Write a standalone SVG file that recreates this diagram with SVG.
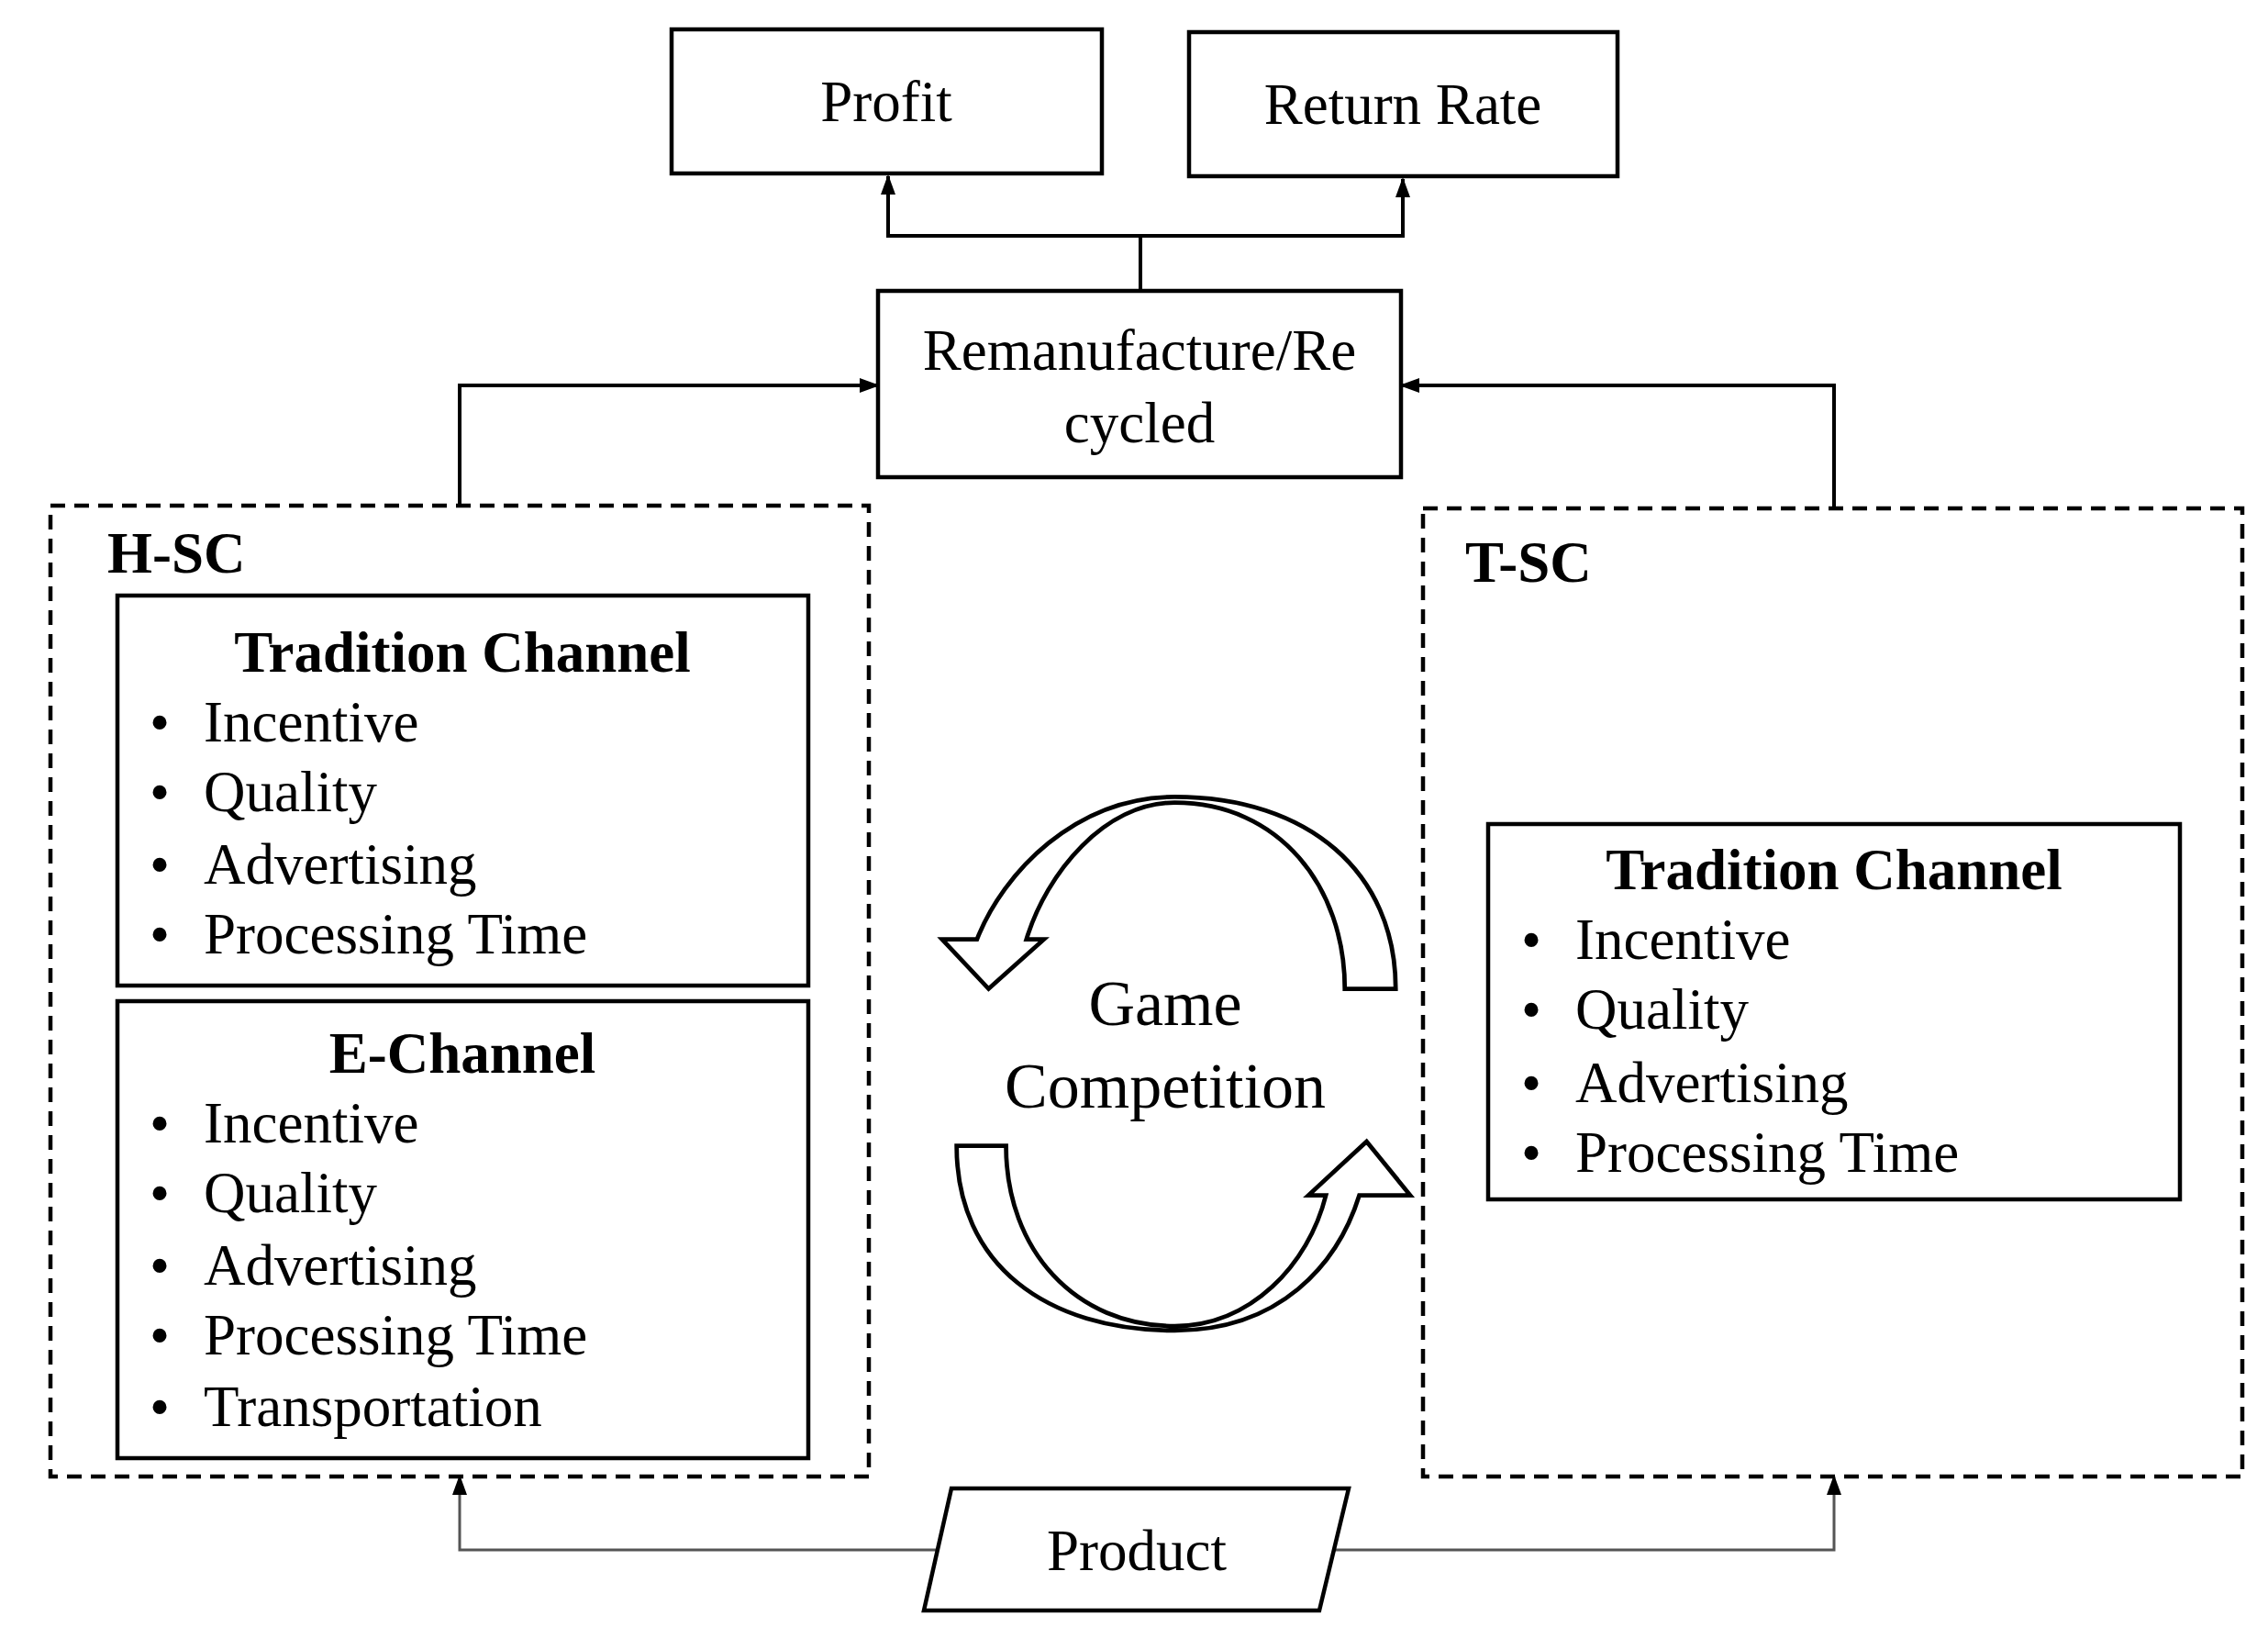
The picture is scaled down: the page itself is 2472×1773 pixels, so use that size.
<svg xmlns="http://www.w3.org/2000/svg" width="2472" height="1773" viewBox="0 0 2472 1773">
<defs>
<marker id="ah" markerWidth="10" markerHeight="10" refX="9" refY="5" orient="auto" markerUnits="userSpaceOnUse" viewBox="0 0 10 10"><path d="M0,0 L10,5 L0,10 Z" fill="#000"/></marker>
<marker id="ahs" markerWidth="22" markerHeight="22" refX="20" refY="11" orient="auto" markerUnits="userSpaceOnUse" viewBox="0 0 22 22"><path d="M0,3 L22,11 L0,19 Z" fill="#000"/></marker>
<style>
text{font-family:"Liberation Serif","Times New Roman",serif;fill:#000}
.t{font-size:63px}
.b{font-size:63px;font-weight:bold}
.box{fill:#fff;stroke:#000;stroke-width:4.5}
.dash{fill:none;stroke:#000;stroke-width:4.5;stroke-dasharray:16 10}
.c{fill:none;stroke:#000;stroke-width:4}
.cg{fill:none;stroke:#555;stroke-width:3}
.cycle{fill:#fff;stroke:#000;stroke-width:3}
</style>
</defs>
<g id="connectors">
<path class="c" d="M1243,317 V257 H968 V192" marker-end="url(#ahs)"/>
<path class="c" d="M1243,257 H1529 V195" marker-end="url(#ahs)"/>
<path class="c" d="M501,551 V420 H957" marker-end="url(#ahs)"/>
<path class="c" d="M1999,554 V420 H1527" marker-end="url(#ahs)"/>
<path class="cg" d="M1023,1689 H501 V1609" marker-end="url(#ahs)"/>
<path class="cg" d="M1454,1689 H1999 V1609" marker-end="url(#ahs)"/>
</g>
<g id="profit"><rect class="box" x="732" y="32" width="469" height="157"/><text class="t" x="966" y="132" text-anchor="middle">Profit</text></g>
<g id="return-rate"><rect class="box" x="1296" y="35" width="467" height="157"/><text class="t" x="1529" y="135" text-anchor="middle">Return Rate</text></g>
<g id="remanufacture"><rect class="box" x="957" y="317" width="570" height="203"/><text class="t" x="1242" y="403" text-anchor="middle">Remanufacture/Re</text><text class="t" x="1242" y="482" text-anchor="middle">cycled</text></g>
<g id="hsc">
<rect class="dash" x="55" y="551" width="892" height="1058"/>
<text class="b" x="117" y="624">H-SC</text>
</g>
<g id="hsc-tradition">
<rect class="box" x="128" y="649" width="753" height="425"/>
<text class="b" x="504" y="732" text-anchor="middle">Tradition Channel</text>
<text class="t" x="163" y="808">•</text><text class="t" x="222" y="808">Incentive</text>
<text class="t" x="163" y="884">•</text><text class="t" x="222" y="884">Quality</text>
<text class="t" x="163" y="963">•</text><text class="t" x="222" y="963">Advertising</text>
<text class="t" x="163" y="1039">•</text><text class="t" x="222" y="1039">Processing Time</text>
</g>
<g id="hsc-echannel">
<rect class="box" x="128" y="1091" width="753" height="498"/>
<text class="b" x="504" y="1169" text-anchor="middle">E-Channel</text>
<text class="t" x="163" y="1245">•</text><text class="t" x="222" y="1245">Incentive</text>
<text class="t" x="163" y="1321">•</text><text class="t" x="222" y="1321">Quality</text>
<text class="t" x="163" y="1400">•</text><text class="t" x="222" y="1400">Advertising</text>
<text class="t" x="163" y="1476">•</text><text class="t" x="222" y="1476">Processing Time</text>
<text class="t" x="163" y="1554">•</text><text class="t" x="222" y="1554">Transportation</text>
</g>
<g id="tsc">
<rect class="dash" x="1551" y="554" width="893" height="1055"/>
<text class="b" x="1597" y="634">T-SC</text>
</g>
<g id="tsc-tradition">
<rect class="box" x="1622" y="898" width="754" height="409"/>
<text class="b" x="1999" y="969" text-anchor="middle">Tradition Channel</text>
<text class="t" x="1658" y="1045">•</text><text class="t" x="1717" y="1045">Incentive</text>
<text class="t" x="1658" y="1121">•</text><text class="t" x="1717" y="1121">Quality</text>
<text class="t" x="1658" y="1201">•</text><text class="t" x="1717" y="1201">Advertising</text>
<text class="t" x="1658" y="1277">•</text><text class="t" x="1717" y="1277">Processing Time</text>
</g>
<g id="game-competition">
<g transform="scale(1.5846)">
<path class="cycle" d="M960,680 C960,600 900,548 808,548 C740,548 690,600 672,646 L648,646 L680,680 L718,646 L706,646 C720,600 760,552 808,552 C880,552 925,610 925,680 Z"/>
<path class="cycle" d="M658,788 C658,870 720,915 808,915 C880,915 920,870 935,822 L970,822 L940,785 L900,822 L912,822 C900,870 860,912 808,912 C740,912 692,860 692,788 Z"/>
</g>
<text x="1270" y="1117" text-anchor="middle" style="font-size:70px">Game</text>
<text x="1270" y="1207" text-anchor="middle" style="font-size:70px">Competition</text>
</g>
<g id="product">
<polygon class="box" points="1037,1622 1470,1622 1438,1755 1007,1755"/>
<text class="t" x="1239" y="1711" text-anchor="middle">Product</text>
</g>
</svg>
